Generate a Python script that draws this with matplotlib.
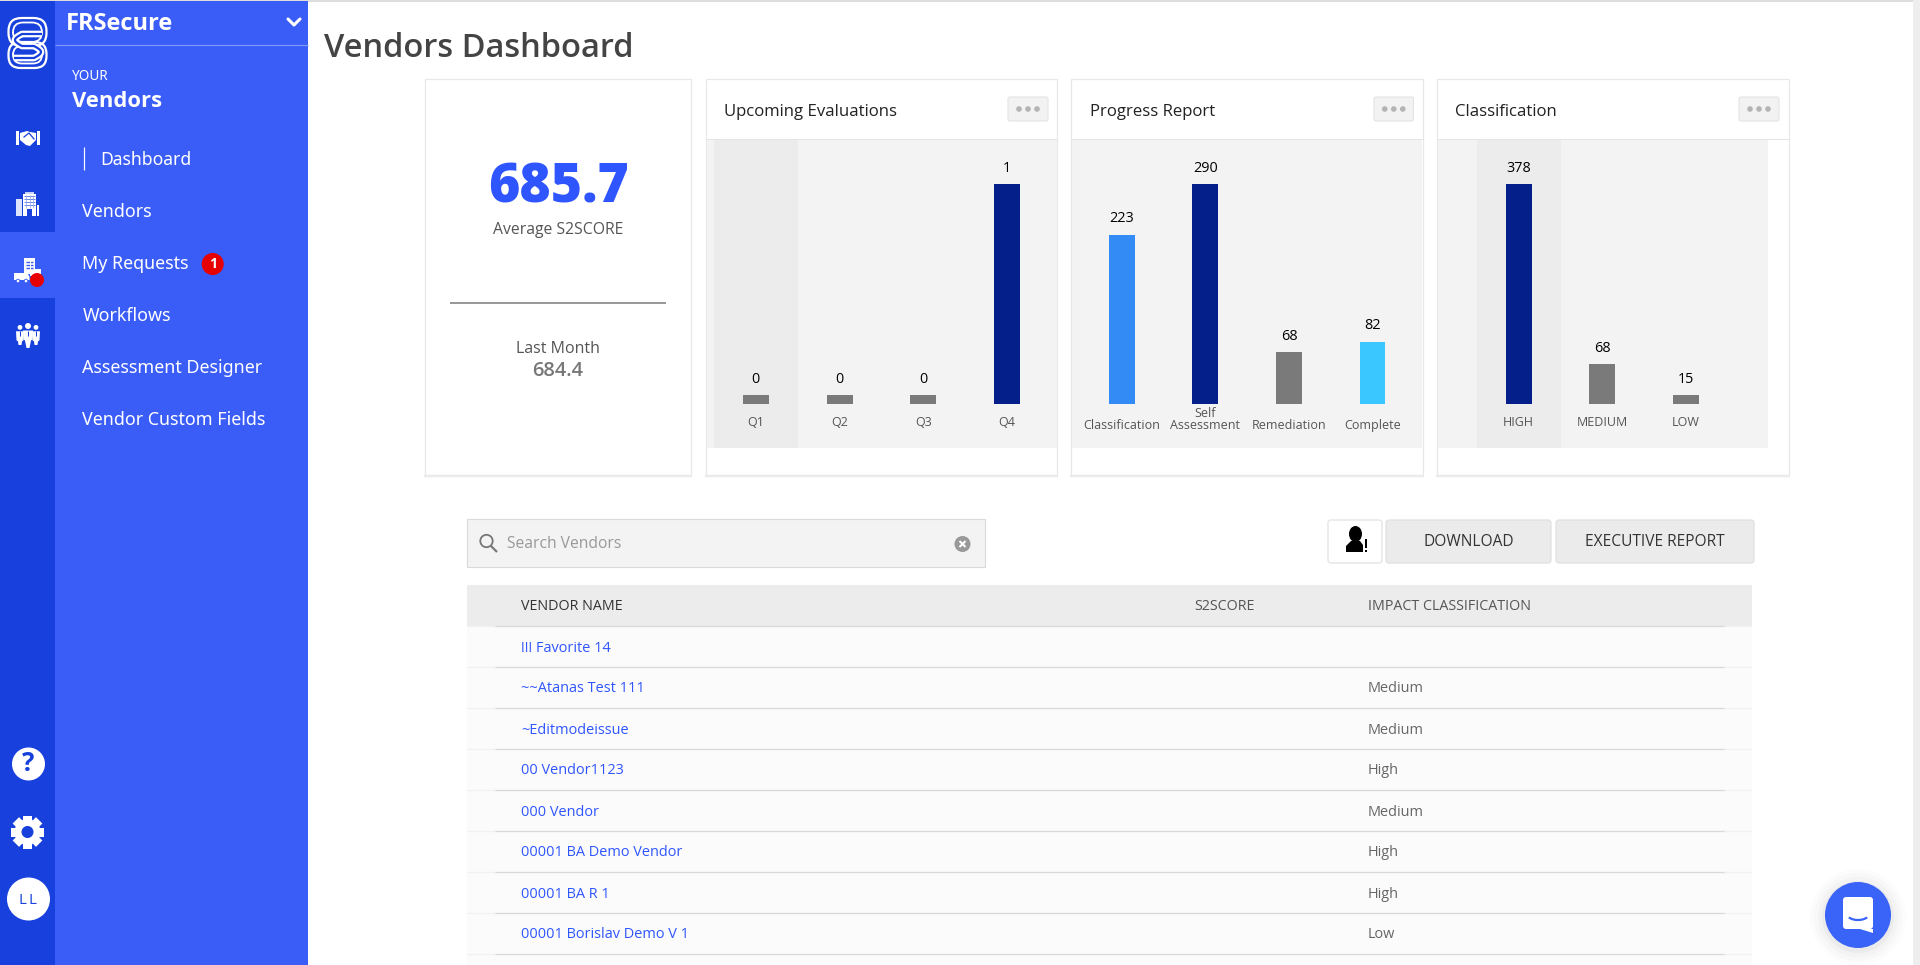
import numpy as np
import matplotlib
matplotlib.use("Agg")
import matplotlib.pyplot as plt
from matplotlib.patches import Rectangle, FancyBboxPatch, Circle, Polygon, Ellipse, Arc

W, H = 1920, 965
plt.rcParams['font.family'] = ['Open Sans', 'DejaVu Sans']

# ---------- data ----------
upcoming_labels = ["Q1", "Q2", "Q3", "Q4"]
upcoming_values = [0, 0, 0, 1]
upcoming_colors = ["#7A7A7A", "#7A7A7A", "#7A7A7A", "#051F8A"]

progress_labels = ["Classification", "Self\nAssessment", "Remediation", "Complete"]
progress_values = [223, 290, 68, 82]
progress_colors = ["#338BF5", "#051F8A", "#7A7A7A", "#3AC6FF"]

class_labels = ["HIGH", "MEDIUM", "LOW"]
class_values = [378, 68, 15]
class_colors = ["#051F8A", "#7A7A7A", "#7A7A7A"]

avg_score = "685.7"
last_month = "684.4"

vendor_names = ["!!! Favorite 14", "~~Atanas Test 111", "~Editmodeissue", "00 Vendor1123",
                "000 Vendor", "00001 BA Demo Vendor", "00001 BA R 1", "00001 Borislav Demo V 1"]
vendor_impact = ["", "Medium", "Medium", "High", "Medium", "High", "High", "Low"]

menu_items = ["Vendors", "My Requests", "Workflows", "Assessment Designer", "Vendor Custom Fields"]

# ---------- colours ----------
RAIL = "#1840DC"
MENU = "#3A5CF7"
BLUE = "#2F55FF"
CHART_BG = "#F3F3F3"
BAND = "#ECECEC"

fig = plt.figure(figsize=(W / 100, H / 100), dpi=100, facecolor="white")
ui = fig.add_axes([0, 0, 1, 1], zorder=0)
ui.set_xlim(0, W)
ui.set_ylim(H, 0)
ui.axis("off")


def rect(x0, y0, x1, y1, fc, ec="none", lw=0, z=1):
    ui.add_patch(Rectangle((x0, y0), x1 - x0, y1 - y0, facecolor=fc, edgecolor=ec, linewidth=lw, zorder=z))


def rrect(x0, y0, x1, y1, r, fc, ec="none", lw=0, z=1):
    ui.add_patch(FancyBboxPatch((x0 + r, y0 + r), x1 - x0 - 2 * r, y1 - y0 - 2 * r,
                                boxstyle=f"round,pad={r},rounding_size={r}", facecolor=fc,
                                edgecolor=ec, linewidth=lw, zorder=z))


def txt(x, y, s, px, color="#333333", ha="left", va="center", weight="normal", family=None, z=5):
    kw = {"family": family} if family else {}
    return ui.text(x, y, s, fontsize=px * 0.72, color=color, ha=ha, va=va, fontweight=weight, zorder=z, **kw)


def line(x0, y0, x1, y1, color, lw=1.0, z=3):
    ui.plot([x0, x1], [y0, y1], color=color, lw=lw * 0.72, solid_capstyle="butt", zorder=z)


# ---------- sidebar ----------
SIDE = ["Noto Sans", "DejaVu Sans"]
rect(0, 0, W, 1.5, "#DDDDDD", z=0.5)
rect(0, 1, 55, H, RAIL)
rect(55, 1, 308, H, MENU)
rect(0, 232, 55, 298, MENU, z=1.2)
line(55, 44.5, 308, 44.5, "#7F97FA", 1.2)

txt(66, 24.5, "FRSecure", 23.6, "white", weight="bold")
ui.plot([288, 294, 300], [19, 25, 19], color="white", lw=2.2, zorder=5, solid_capstyle="round")
txt(72, 76.5, "YOUR", 13.5, "white", family=SIDE)
txt(71.5, 101.5, "Vendors", 22, "white", weight="bold")
line(83.5, 147, 83.5, 170, "white", 1.2)
txt(100, 160, "Dashboard", 17.6, "white", family=SIDE)
for i, item in enumerate(menu_items):
    txt(82.5, 212 + 52 * i, item, 17.9, "white", family=SIDE)
ui.add_patch(Circle((212.7, 264), 11, fc="#E60000", ec="none", zorder=5))
txt(212.7, 264, "1", 14, "white", ha="center", weight="bold", z=6)

# logo: stacked rounded outlines with a doubled S
for (x0, y0, x1, y1, r) in [(8.5, 18, 46.5, 46, 13), (8.5, 42, 46.5, 68, 12)]:
    rrect(x0, y0, x1, y1, r, "none", "white", 1.6, z=3)
for (x0, y0, x1, y1, r) in [(13, 22.5, 42, 42, 10), (13, 46, 42, 63.5, 9)]:
    rrect(x0, y0, x1, y1, r, "none", "white", 1.3, z=3)
s_t = np.linspace(0, 1, 30)
sx = np.r_[42, 22, 22 - 7 * np.sin(np.pi * s_t), 34, 34 + 7 * np.sin(np.pi * s_t), 14]
sy = np.r_[34, 34, 34 + 12 * s_t, 46, 46 + 12 * s_t, 58]
ui.plot(sx, sy, color="white", lw=4.8, zorder=3.5, solid_capstyle="butt")
ui.plot(sx, sy, color=RAIL, lw=1.6, zorder=3.6, solid_capstyle="butt")

# handshake
rect(16, 131, 19, 145, "white", z=3)
rect(37, 131, 40, 145, "white", z=3)
ui.add_patch(Polygon([(20, 133), (27, 131), (30, 132), (36, 133), (36, 140), (30, 146), (26, 145), (20, 140)],
                     fc="white", ec="none", zorder=3))
ui.plot([24, 29, 34], [137, 133, 139], color=RAIL, lw=0.9, zorder=4)

# building
rect(25, 192, 34, 195, "#C9D4FB", z=3)
rect(22.5, 194, 36, 216, "white", z=3)
rect(16, 199, 22, 216, "#DCE3FD", z=3)
rect(37, 205, 39, 216, "white", z=3)
rect(27, 209, 32, 216, RAIL, z=4)
for yy in range(196, 208, 3):
    line(24, yy, 35, yy, "#5F7BEA", 0.9, z=4)
for xx in (26, 29.5, 33):
    line(xx, 195, xx, 208, "#8FA4F2", 0.7, z=4)

# building + truck
rect(24, 258, 35, 274, "white", z=3)
for yy in (262, 265, 268):
    line(26, yy, 33, yy, MENU, 1.4, z=4)
for xx in (29.5,):
    line(xx, 260, xx, 270, "white", 1.0, z=4)
rect(14, 273, 26, 280, "white", z=3)
ui.add_patch(Polygon([(26, 274), (28, 274), (29.5, 277), (29.5, 280), (26, 280)], fc="white", ec="none", zorder=3))
ui.add_patch(Circle((18, 281), 1.8, fc="white", ec=MENU, lw=0.6, zorder=3.2))
ui.add_patch(Circle((26, 281), 1.8, fc="white", ec=MENU, lw=0.6, zorder=3.2))
rect(30, 269, 41, 276, "white", z=3)
ui.add_patch(Circle((37, 280), 7, fc="#E60000", ec="none", zorder=5))

# people
for cx, r, top, hw, bottom in [(20, 2.4, 325, 4, 345), (28, 3.0, 323, 5, 348), (36, 2.4, 325, 4, 345)]:
    ui.add_patch(Circle((cx, top + r), r, fc="white", ec="none", zorder=3))
    y0 = top + 2 * r + 1.5
    ui.add_patch(Polygon([(cx - hw, y0), (cx + hw, y0), (cx + hw - 0.5, y0 + 9), (cx + hw - 2, y0 + 10),
                          (cx + 1.5, bottom), (cx - 1.5, bottom), (cx - hw + 2, y0 + 10), (cx - hw + 0.5, y0 + 9)],
                         fc="white", ec="none", zorder=3))
    line(cx, y0, cx, y0 + 5, RAIL, 1.0, z=4)

# help / gear / avatar
ui.add_patch(Circle((28.5, 764), 16.5, fc="white", ec="none", zorder=3))
txt(28.5, 763.5, "?", 26, RAIL, ha="center", weight="bold", z=4)
for a in np.arange(0, 180, 45):
    c, s = np.cos(np.radians(a)), np.sin(np.radians(a))
    pts = [(-16.5, -4.5), (16.5, -4.5), (16.5, 4.5), (-16.5, 4.5)]
    ui.add_patch(Polygon([(27.5 + px * c - py * s, 832 + px * s + py * c) for px, py in pts],
                         fc="white", ec="none", zorder=3))
ui.add_patch(Circle((27.5, 832), 13, fc="white", ec="none", zorder=3))
ui.add_patch(Circle((27.5, 832), 6, fc=RAIL, ec="none", zorder=4))
ui.add_patch(Circle((28.5, 899), 21.5, fc="white", ec="none", zorder=3))
txt(22.5, 900, "L", 15, RAIL, ha="center", z=4)
txt(32.5, 900, "L", 15, RAIL, ha="center", z=4)

# scrollbar
rect(1913, 0, 1920, H, "#EEEEEE", z=0.6)

# ---------- page title ----------
txt(324.5, 48.5, "Vendors Dashboard", 32.6, "#444444", weight="semibold")


# ---------- cards ----------
def card(x0, x1, y0=79, y1=475):
    for k, c in enumerate(["#E4E4E4", "#EFEFEF", "#F8F8F8"]):
        rect(x0 - 1, y1, x1 + 1, y1 + 1 + k, c, z=1.0 - k * 0.01)
    rect(x0, y0, x1, y1, "white", ec="#E8E8E8", lw=0.9, z=1.1)


def more_button(x0, x1, y0=97, y1=121):
    rrect(x0, y0, x1, y1, 2, "#F2F2F2", "#E4E4E4", 0.8, z=3)
    cx = (x0 + x1) / 2
    for dx in (-9, 0, 9):
        ui.add_patch(Circle((cx + dx, 109), 2.8, fc="#B4B4B4", ec="none", zorder=4))


card(424.5, 691)
txt(558, 188, avg_score, 53.5, BLUE, ha="center", weight="extra bold")
txt(558, 229.5, "Average S2SCORE", 15.7, "#555555", ha="center")
line(450, 302.7, 666, 302.7, "#999999", 2.0)
txt(558, 349, "Last Month", 16, "#555555", ha="center")
txt(558, 371, last_month, 20, "#777777", ha="center", weight="semibold")


def chart(card_x0, card_x1, bg_x1, ax_x0, ax_x1, title, title_x, btn, labels, values, colors,
          band=None, wrap_bottom=False):
    card(card_x0, card_x1)
    line(card_x0, 139, card_x1, 139, "#E4E4E4", 1.0)
    rect(card_x0 + 0.5, 139.5, bg_x1, 448, CHART_BG, z=1.5)
    txt(title_x, 111.5, title, 16.7, "#222222")
    more_button(*btn)
    # plotting area: baseline y = 404, tallest bar top y = 184
    ax = fig.add_axes([ax_x0 / W, 1 - 404 / H, (ax_x1 - ax_x0) / W, 220 / H], zorder=2)
    ax.patch.set_alpha(0)
    vmax = max(values)
    shown = [max(v, vmax * 0.04) for v in values]
    x = np.arange(len(values))
    ax.bar(x, shown, width=0.31, color=colors, zorder=3)
    ax.set_xlim(-0.5, len(values) - 0.5)
    ax.set_ylim(0, vmax)
    ax.set_yticks([])
    ax.set_xticks(x, labels)
    for s in ax.spines.values():
        s.set_visible(False)
    if band is not None:
        ui_x0 = ax_x0 + band * (ax_x1 - ax_x0) / len(values)
        ui_x1 = ui_x0 + (ax_x1 - ax_x0) / len(values)
        rect(ui_x0, 139.5, ui_x1, 448, BAND, z=1.6)
    if wrap_bottom:
        ax.tick_params(axis="x", length=0, pad=20.0, labelsize=9.0, labelcolor="#555555")
        for t in ax.get_xticklabels():
            t.set_verticalalignment("bottom")
            t.set_linespacing(0.9)
    else:
        ax.tick_params(axis="x", length=0, pad=8.3, labelsize=9.0, labelcolor="#555555")
    for xi, h, v in zip(x, shown, values):
        ax.annotate(str(v), (xi, h), xytext=(0, 11.4), textcoords="offset points", ha="center", va="center",
                    fontsize=10.4, color="black", annotation_clip=False)
    return ax


chart(706, 1057, 1056.5, 714, 1049, "Upcoming Evaluations", 724.5, (1008, 1048),
      upcoming_labels, upcoming_values, upcoming_colors, band=0)
chart(1071, 1422.5, 1422, 1080, 1414.3, "Progress Report", 1090, (1374, 1413.5),
      progress_labels, progress_values, progress_colors, wrap_bottom=True)
chart(1437, 1788.5, 1768, 1477, 1727.5, "Classification", 1455.5, (1739, 1779),
      class_labels, class_values, class_colors, band=0)

# ---------- search + buttons ----------
rect(467, 519, 984.5, 567, "#F3F3F3", ec="#DADADA", lw=0.8, z=2)
ui.add_patch(Circle((486.5, 541), 6.2, fc="none", ec="#777777", lw=1.3, zorder=3))
line(491, 546, 497, 552, "#777777", 2.2, z=3)
txt(507, 544.5, "Search Vendors", 15.6, "#999999")
ui.add_patch(Circle((962.5, 544), 8, fc="#999999", ec="none", zorder=3))
line(959.5, 541, 965.5, 547, "white", 2, z=4)
line(959.5, 547, 965.5, 541, "white", 2, z=4)

rrect(1328, 520, 1382, 563, 3, "white", "#E2E2E2", 0.9, z=2)
ui.add_patch(Ellipse((1355.5, 534), 13, 16, fc="black", ec="none", zorder=3))
ui.add_patch(Polygon([(1346, 552), (1346, 546), (1351, 541), (1360, 541), (1363, 545), (1363, 552)],
                     fc="black", ec="none", zorder=3))
rect(1364.5, 539, 1366.5, 548, "black", z=3)
rect(1364.5, 550, 1366.5, 552, "black", z=3)
for x0, x1, label in [(1386, 1551, "DOWNLOAD"), (1556, 1754, "EXECUTIVE REPORT")]:
    rrect(x0, 520, x1, 563, 3, "#EBEBEB", "#E0E0E0", 0.9, z=2)
    txt((x0 + x1) / 2, 542.5, label, 15.5, "#333333", ha="center")

# ---------- table ----------
rect(467, 585, 1752, 626, "#ECECEC", z=1.5)
for x, label, c in [(521, "VENDOR NAME", "#333333"), (1194, "S2SCORE", "#555555"),
                    (1368, "IMPACT CLASSIFICATION", "#555555")]:
    txt(x, 606.5, label, 14.3, c)
rect(467, 626, 1752, H, "#FBFBFB", z=1.2)
for k in range(len(vendor_names) + 1):
    y = 626 + 41 * k
    line(467, y, 1752, y, "#F1F1F1", 1.2, z=1.4)
    line(494.5, y, 1724, y, "#D9D9D9", 1.2, z=1.5)
for k, (name, impact) in enumerate(zip(vendor_names, vendor_impact)):
    y = 648 + 41 * k
    txt(521, y, name, 14.5, BLUE)
    if impact:
        txt(1368, y, impact, 14.5, "#666666")

# ---------- chat bubble ----------
for r, a in [(48, .01), (44, .015), (40, .02), (36, .03)]:
    ui.add_patch(Circle((1858, 917), r, fc="black", ec="none", alpha=a, zorder=6))
ui.add_patch(Circle((1858, 915), 33, fc="#3A63F7", ec="none", zorder=7))
rrect(1843, 897, 1873, 929, 3, "white", z=8)
ui.add_patch(Polygon([(1860, 929), (1873, 929), (1873, 933)], fc="white", ec="none", zorder=8))
ui.add_patch(Arc((1858, 914), 22, 12, theta1=20, theta2=160, ec="#3A63F7", lw=1.6, zorder=9))

fig.savefig("out.png", dpi=100)
